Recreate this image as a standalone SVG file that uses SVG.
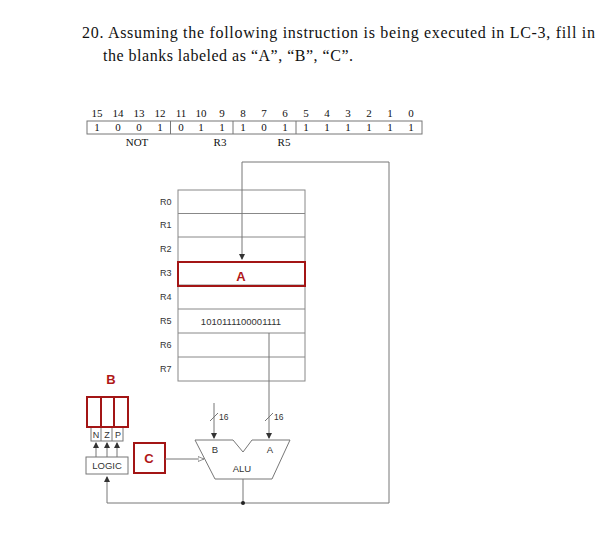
<svg xmlns="http://www.w3.org/2000/svg" width="613" height="541" viewBox="0 0 613 541">
<style>
.t{font-family:"Liberation Serif",serif;fill:#111}
.s{font-family:"Liberation Sans",sans-serif;fill:#333}
.ln{fill:none;stroke:#888;stroke-width:1}
.red{fill:none;stroke:#a31515;stroke-width:2}
.rl{font-family:"Liberation Sans",sans-serif;font-weight:bold;fill:#b01818;font-size:13px}
</style>
<defs><marker id="ar" markerWidth="6" markerHeight="6" refX="5" refY="3" orient="auto"><path d="M0,0L6,3L0,6z" fill="#333"/></marker>
<marker id="oa" markerWidth="7" markerHeight="6" refX="6" refY="3" orient="auto"><path d="M0,0.5L6,3L0,5.5z" fill="#fff" stroke="#777" stroke-width="0.8"/></marker></defs>
<rect width="613" height="541" fill="#fff"/>
<text class="t" x="82" y="38" font-size="16" textLength="513" lengthAdjust="spacing">20. Assuming the following instruction is being executed in LC-3, fill in</text>
<text class="t" x="103" y="61" font-size="16" textLength="250" lengthAdjust="spacing">the blanks labeled as “A”, “B”, “C”.</text>
<g id="instr">
<rect x="87" y="121" width="335" height="13" fill="none" stroke="#777"/>
<path d="M170.5,121V134M233,121V134M296,121V134" stroke="#777"/>
<g class="t" font-size="11" text-anchor="middle">
<text x="97" y="117">15</text><text x="118" y="117">14</text><text x="139" y="117">13</text><text x="160" y="117">12</text><text x="181" y="117">11</text><text x="201" y="117">10</text><text x="222" y="117">9</text><text x="243" y="117">8</text><text x="264" y="117">7</text><text x="285" y="117">6</text><text x="306" y="117">5</text><text x="327" y="117">4</text><text x="348" y="117">3</text><text x="369" y="117">2</text><text x="390" y="117">1</text><text x="411" y="117">0</text>
<text x="97" y="131">1</text><text x="118" y="131">0</text><text x="139" y="131">0</text><text x="160" y="131">1</text><text x="181" y="131">0</text><text x="201" y="131">1</text><text x="222" y="131">1</text><text x="243" y="131">1</text><text x="264" y="131">0</text><text x="285" y="131">1</text><text x="306" y="131">1</text><text x="327" y="131">1</text><text x="348" y="131">1</text><text x="369" y="131">1</text><text x="390" y="131">1</text><text x="411" y="131">1</text>
<text x="137" y="146">NOT</text><text x="220" y="146">R3</text><text x="284" y="146">R5</text>
</g></g>
<g id="regfile">
<rect x="178" y="190" width="127" height="191" class="ln" stroke="#777"/>
<path d="M178,213.5H305M178,237H305M178,285H305M178,309H305M178,333H305M178,357H305" class="ln" stroke="#777"/>
<g class="s" font-size="9"><text x="160" y="205">R0</text><text x="160" y="228">R1</text><text x="160" y="252">R2</text><text x="160" y="276">R3</text><text x="160" y="300">R4</text><text x="160" y="324">R5</text><text x="160" y="348">R6</text><text x="160" y="372">R7</text></g>
<text class="s" x="241" y="325" font-size="9.5" text-anchor="middle">1010111100001111</text>
<rect x="178" y="262" width="127" height="24" class="red"/>
<text class="rl" x="241" y="281" text-anchor="middle">A</text>
</g>
<g id="alu">
<path d="M195,440H233L243,452L252,440H290L272,479H215Z" fill="#fff" stroke="#777"/>
<g class="s" font-size="9.5" text-anchor="middle"><text x="215" y="453">B</text><text x="270" y="453">A</text><text x="242" y="472">ALU</text></g>
</g>
<g id="nzp">
<rect x="91" y="427" width="32" height="14" fill="#fff" stroke="#777"/>
<path d="M101,427V441M112,427V441" stroke="#777"/>
<g class="s" font-size="9" text-anchor="middle"><text x="96" y="438">N</text><text x="107" y="438">Z</text><text x="118" y="438">P</text></g>
<rect x="87" y="397" width="41" height="30" class="red"/>
<path d="M101,397V427M114,397V427" class="red"/>
<text class="rl" x="111" y="384" text-anchor="middle">B</text>
</g>
<g id="logic">
<rect x="86" y="457" width="42" height="17" fill="#fff" stroke="#777"/>
<text class="s" x="107" y="469" font-size="9.5" text-anchor="middle">LOGIC</text>
</g>
<g id="cbox"><rect x="134" y="443" width="31" height="30" class="red"/><text class="rl" x="149" y="463" text-anchor="middle">C</text></g>
<g id="connectors" stroke="#777" fill="none">
<path d="M389,162H242V259" marker-end="url(#ar)"/>
<path d="M389,162V503H107V477" marker-end="url(#ar)"/>
<path d="M243,479V503"/>
<circle cx="243" cy="503" r="2" fill="#222" stroke="none"/>
<path d="M269,333V438" marker-end="url(#ar)"/>
<path d="M214,403V438" marker-end="url(#ar)"/>
<path d="M210,421L218,413M265,421L273,413"/>
<path d="M165,459H204" marker-end="url(#oa)"/>
<path d="M96,457V443" marker-end="url(#ar)"/>
<path d="M107,457V443" marker-end="url(#ar)"/>
<path d="M117,457V443" marker-end="url(#ar)"/>
</g>
<g class="s" font-size="8.5"><text x="219" y="420">16</text><text x="274" y="420">16</text></g>
</svg>
